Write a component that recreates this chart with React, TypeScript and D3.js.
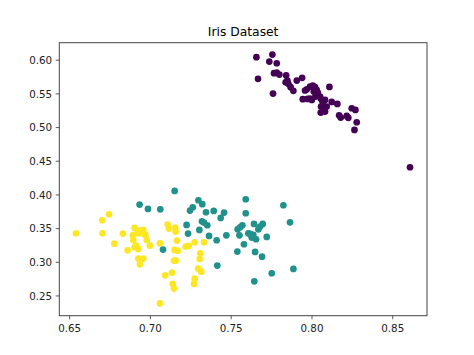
import React from "react";
import * as d3 from "d3";

const title = "Iris Dataset";
const xTicks = [0.65, 0.7, 0.75, 0.8, 0.85];
const yTicks = [0.25, 0.3, 0.35, 0.4, 0.45, 0.5, 0.55, 0.6];
const classColors = ["#440154", "#21918c", "#fde725"];

const setosa: [number, number][] = [
  [0.7656, 0.6045], [0.7755, 0.6084], [0.7736, 0.598], [0.7782, 0.5955], [0.7666, 0.5723],
  [0.7759, 0.5505], [0.7765, 0.5807], [0.7782, 0.5817], [0.7798, 0.5787], [0.784, 0.5777],
  [0.7848, 0.5698], [0.7837, 0.5673], [0.7854, 0.5649], [0.7868, 0.5599], [0.7885, 0.5545],
  [0.7906, 0.5698], [0.7939, 0.5738], [0.7957, 0.555], [0.7968, 0.5569], [0.7943, 0.5421],
  [0.7972, 0.5426], [0.7988, 0.5431], [0.7999, 0.5411], [0.7988, 0.5609], [0.8005, 0.5624],
  [0.8019, 0.5599], [0.8029, 0.5559], [0.8011, 0.5535], [0.8036, 0.552], [0.805, 0.546],
  [0.8021, 0.546], [0.8054, 0.5431], [0.8065, 0.5386], [0.8081, 0.5411], [0.8056, 0.5312],
  [0.8071, 0.5322], [0.8091, 0.5312], [0.8081, 0.5238], [0.8054, 0.5223], [0.8108, 0.5604],
  [0.8122, 0.5381], [0.8157, 0.5351], [0.8168, 0.5183], [0.8178, 0.5149], [0.8215, 0.5173],
  [0.8225, 0.5144], [0.8246, 0.5287], [0.8269, 0.5262], [0.8277, 0.5079], [0.8263, 0.4965],
  [0.8607, 0.4411],
];

const versicolor: [number, number][] = [
  [0.715, 0.406], [0.6933, 0.3857], [0.6985, 0.3792], [0.7061, 0.3787], [0.7078, 0.3188],
  [0.7224, 0.3555], [0.7233, 0.3426], [0.7245, 0.3768], [0.7262, 0.3817], [0.7297, 0.3921],
  [0.7321, 0.3862], [0.7344, 0.3743], [0.7303, 0.348], [0.7319, 0.3609], [0.7352, 0.355],
  [0.7363, 0.3391], [0.7392, 0.3763], [0.741, 0.3327], [0.7435, 0.3658], [0.7456, 0.3738],
  [0.747, 0.3401], [0.7414, 0.2951], [0.7538, 0.3159], [0.754, 0.349], [0.7555, 0.352],
  [0.7551, 0.3401], [0.7579, 0.3268], [0.759, 0.3936], [0.759, 0.3728], [0.7617, 0.3421],
  [0.7627, 0.3367], [0.7641, 0.357], [0.7654, 0.3342], [0.7648, 0.3154], [0.7643, 0.2718],
  [0.7668, 0.349], [0.7679, 0.353], [0.7695, 0.357], [0.7691, 0.3084], [0.772, 0.3376],
  [0.7751, 0.2837], [0.7823, 0.3847], [0.7864, 0.3594], [0.7885, 0.2901], [0.7569, 0.355],
  [0.7637, 0.3406], [0.7606, 0.3431], [0.7332, 0.3589],
];

const virginica: [number, number][] = [
  [0.6539, 0.3431], [0.6702, 0.3624], [0.6744, 0.3713], [0.6704, 0.3431], [0.6777, 0.3277],
  [0.683, 0.3426], [0.6859, 0.3178], [0.689, 0.3401], [0.6902, 0.351], [0.6919, 0.3431],
  [0.6935, 0.3471], [0.6956, 0.348], [0.6911, 0.3248], [0.6925, 0.3198], [0.6902, 0.3223],
  [0.6925, 0.3055], [0.6935, 0.297], [0.6956, 0.3055], [0.6944, 0.3431], [0.6969, 0.3406],
  [0.6997, 0.3248], [0.7059, 0.3282], [0.7059, 0.2391], [0.7092, 0.2807], [0.7107, 0.356],
  [0.7115, 0.35], [0.7154, 0.3515], [0.7156, 0.3456], [0.7165, 0.3322], [0.715, 0.3183],
  [0.7169, 0.3173], [0.7146, 0.3025], [0.7134, 0.2847], [0.7138, 0.2678], [0.7146, 0.2609],
  [0.7218, 0.3233], [0.7237, 0.3243], [0.7274, 0.3297], [0.7332, 0.3297], [0.7309, 0.3134],
  [0.7305, 0.305], [0.7295, 0.2906], [0.7315, 0.2861], [0.7274, 0.2757], [0.727, 0.2678],
  [0.6977, 0.3332], [0.6894, 0.3332], [0.7158, 0.3025],
];

const W = 474;
const H = 355;
const left = 59.3;
const right = 427;
const top = 42.7;
const bottom = 315.7;

export default function App() {
  const x = d3.scaleLinear().domain([0.6436, 0.8712]).range([left, right]);
  const y = d3.scaleLinear().domain([0.2207, 0.626]).range([bottom, top]);
  const font = "'DejaVu Sans', sans-serif";
  const groups = [setosa, versicolor, virginica];
  return (
    <svg
      width={W}
      height={H}
      style={{ position: "absolute", left: 0, top: 0, background: "#fff" }}
    >
      <text x={(left + right) / 2} y={36} textAnchor="middle" fontFamily={font} fontSize={12.3} fill="#000">
        {title}
      </text>
      {groups.map((g, gi) =>
        g.map((d, i) => (
          <circle key={`${gi}-${i}`} cx={x(d[0])} cy={y(d[1])} r={3.35} fill={classColors[gi]} />
        ))
      )}
      <rect x={left} y={top} width={right - left} height={bottom - top} fill="none" stroke="#444" strokeWidth={1} />
      {xTicks.map((t) => (
        <g key={`x${t}`}>
          <line x1={x(t)} x2={x(t)} y1={bottom} y2={bottom + 3.6} stroke="#333" strokeWidth={0.8} />
          <text x={x(t)} y={331.5} textAnchor="middle" fontFamily={font} fontSize={10.3} fill="#222">
            {d3.format(".2f")(t)}
          </text>
        </g>
      ))}
      {yTicks.map((t) => (
        <g key={`y${t}`}>
          <line x1={left - 3.6} x2={left} y1={y(t)} y2={y(t)} stroke="#333" strokeWidth={0.8} />
          <text x={left - 7.2} y={y(t) + 3.8} textAnchor="end" fontFamily={font} fontSize={10.3} fill="#222">
            {d3.format(".2f")(t)}
          </text>
        </g>
      ))}
    </svg>
  );
}
